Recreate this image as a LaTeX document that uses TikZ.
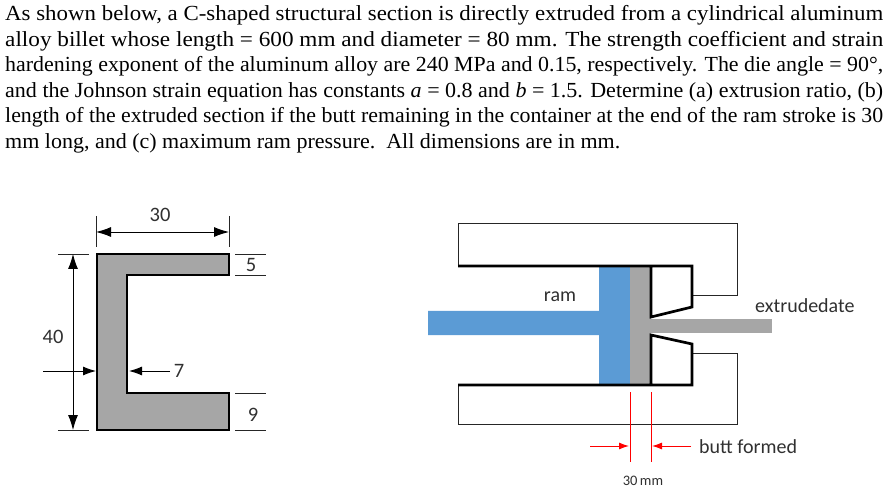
\documentclass[tikz,border=0pt]{standalone}
\usepackage{fontspec}
\usepackage{graphicx}
\setmainfont{Liberation Serif}
\newfontfamily\labelfont{Carlito}
\usetikzlibrary{arrows.meta}
\definecolor{partgray}{HTML}{A6A6A6}
\definecolor{ramblue}{HTML}{5B9BD5}
\definecolor{dimtext}{HTML}{303030}
\newcommand{\fitline}[1]{\resizebox{878pt}{\height}{#1}}
\tikzset{
  textline/.style={anchor=base west,inner sep=0pt,font=\fontsize{21.5pt}{24pt}\selectfont},
  dimlabel/.style={inner sep=0pt,text=dimtext,font=\labelfont\fontsize{20.5pt}{24pt}\selectfont},
  wordlabel/.style={inner sep=0pt,text=dimtext,font=\labelfont\fontsize{20pt}{24pt}\selectfont},
  thick outline/.style={draw=black,line width=2.7pt,line join=miter},
  thin outline/.style={draw=black!85,line width=1pt},
  dimline/.style={draw=black!85,line width=0.8pt},
  dimarrow/.style={draw=black,line width=0.9pt,-{Latex[length=13pt,width=9pt]}},
  dimboth/.style={draw=black,line width=0.9pt,{Latex[length=15pt,width=10pt]}-{Latex[length=15pt,width=10pt]}},
  redline/.style={draw=red,line width=1pt},
  redarrow/.style={draw=red,line width=1pt,-{Latex[length=10pt,width=7pt]}}
}
\begin{document}
\begin{tikzpicture}[x=1pt,y=-1pt]
\useasboundingbox (0,0) rectangle (888,502);
% problem statement
\node[textline] (l1) at (5,21) {\fitline{As shown below, a C-shaped structural section is directly extruded from a cylindrical aluminum}};
\node[textline] (l2) at (5,46.5) {\fitline{alloy billet whose length = 600 mm and diameter = 80 mm. The strength coefficient and strain}};
\node[textline] (l3) at (5,72) {\fitline{hardening exponent of the aluminum alloy are 240 MPa and 0.15, respectively. The die angle = 90°,}};
\node[textline] (l4) at (5,97.5) {\fitline{and the Johnson strain equation has constants \textit{a} = 0.8 and \textit{b} = 1.5. Determine (a) extrusion ratio, (b)}};
\node[textline] (l5) at (5,123) {\fitline{length of the extruded section if the butt remaining in the container at the end of the ram stroke is 30}};
\node[textline] (l6) at (5,148.5) {\resizebox{615pt}{\height}{mm long, and (c) maximum ram pressure.\ \ All dimensions are in mm.}};
% C section
\draw[thick outline,fill=partgray] (97,254) -- (229,254) -- (229,275) -- (127,275) -- (127,393) -- (229,393) -- (229,430) -- (97,430) -- cycle;
\draw[dimline] (96,216) -- (96,247) (229,216) -- (229,247);
\draw[dimboth] (96,232) -- (229,232);
\node[dimlabel] (d30) at (160,215) {30};
\draw[dimline] (58,254) -- (89,254) (58,430) -- (89,430);
\draw[dimboth] (73,254) -- (73,430);
\node[dimlabel] (d40) at (53,337) {40};
\draw[dimline] (235,254) -- (266,254) (235,275) -- (266,275) (235,393) -- (266,393) (235,430) -- (266,430);
\node[dimlabel] (d5) at (251,265) {5};
\node[dimlabel] (d9) at (253,415) {9};
\draw[dimarrow] (43,371) -- (96,371);
\draw[dimarrow] (170,371) -- (129,371);
\node[dimlabel] (d7) at (179,371) {7};
% extrusion: ram, billet butt, extrudate
\fill[ramblue] (428,311) -- (599,311) -- (599,266) -- (630,266) -- (630,385) -- (599,385) -- (599,335) -- (428,335) -- cycle;
\fill[partgray] (630,266) rectangle (651,385);
\fill[partgray] (651,319) rectangle (772,333);
% container and die
\draw[thin outline] (458,266) -- (458,224) -- (737,224) -- (737,296) -- (692,296);
\draw[thin outline] (458,385) -- (458,424) -- (737,424) -- (737,353) -- (692,353);
\draw[thick outline] (458,266) -- (692,266) -- (692,307) -- (651,317) -- (651,266);
\draw[thick outline] (458,385) -- (692,385) -- (692,344) -- (651,335) -- (651,385);
% annotations
\draw[redline] (630,392) -- (630,462) (651,392) -- (651,462);
\draw[redarrow] (590,446) -- (629,446);
\draw[redarrow] (691,446) -- (652,446);
\node[wordlabel] (ram) at (560,297) {ram};
\node[wordlabel,anchor=west] (ext) at (755,306) {extrudedate};
\node[wordlabel,anchor=west] (butt) at (699,447) {butt formed};
\node[wordlabel,font=\labelfont\fontsize{14.5pt}{18pt}\selectfont] (mm) at (643,481) {30\,mm};
\end{tikzpicture}
\end{document}
